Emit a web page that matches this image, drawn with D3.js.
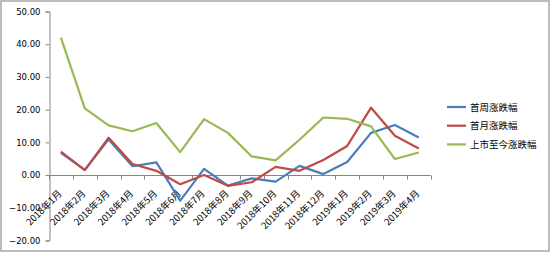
<!DOCTYPE html>
<html><head><meta charset="utf-8">
<script src="https://cdn.jsdelivr.net/npm/d3@7"></script>
<style>html,body{margin:0;padding:0;background:#fff;}svg{display:block;}</style>
</head><body>
<svg id="c" width="554" height="255"></svg>
<script>
const categories = ["2018年1月","2018年2月","2018年3月","2018年4月","2018年5月","2018年6月","2018年7月","2018年8月","2018年9月","2018年10月","2018年11月","2018年12月","2019年1月","2019年2月","2019年3月","2019年4月"];
const firstWeek  = [6.8, 1.6, 10.9, 2.7, 3.9, -7.8, 1.9, -3.2, -1.0, -2.0, 2.8, 0.3, 4.0, 12.9, 15.3, 11.5];
const firstMonth = [7.2, 1.5, 11.4, 3.4, 1.3, -2.8, 0.0, -3.3, -2.2, 2.5, 1.3, 4.6, 8.9, 20.6, 12.0, 8.1];
const sinceIPO   = [42.0, 20.4, 15.2, 13.4, 15.9, 7.0, 17.1, 12.9, 5.7, 4.5, 10.8, 17.6, 17.2, 14.9, 4.9, 6.9];
const seriesNames = ["首周涨跌幅","首月涨跌幅","上市至今涨跌幅"];
const seriesColors = ["#4a7ebb","#be4b48","#98b954"];
const yTicks = [-20,-10,0,10,20,30,40,50];

const svg = d3.select("#c");
svg.append("rect").attr("x",1).attr("y",1).attr("width",548).attr("height",250)
  .attr("fill","#fff").attr("stroke","#bdbdbd").attr("stroke-width",2);

const L = 49, R = 430.7, T = 11.5, B = 240.5;
const x = d3.scaleBand().domain(categories).range([L,R]).padding(0);
const y = d3.scaleLinear().domain([-20,50]).range([B,T]);
const cx = d => x(d) + x.bandwidth()/2;

// y axis
const yAxis = d3.axisLeft(y).tickValues(yTicks).tickSize(4).tickPadding(5).tickFormat(d3.format(".2f"));
const gy = svg.append("g").attr("transform",`translate(${L+0.5},0)`).call(yAxis)
  .attr("font-family",null).attr("font-size",null);
gy.select(".domain").attr("stroke","#868686");
gy.selectAll(".tick line").attr("stroke","#868686");
gy.selectAll("text").style("font-family","'DejaVu Sans', sans-serif").style("font-size","8.5px").attr("fill","#000");

// x axis at zero
const y0 = Math.round(y(0))+0.5;
const gx = svg.append("g").attr("transform",`translate(0,${y0})`);
gx.append("line").attr("x1",L).attr("x2",R).attr("stroke","#868686");
const bounds = categories.map(c => x(c)).concat([R]);
gx.selectAll("line.tk").data(bounds).join("line").attr("class","tk")
  .attr("x1",d=>Math.round(d)+0.5).attr("x2",d=>Math.round(d)+0.5).attr("y1",0).attr("y2",4).attr("stroke","#868686");
gx.selectAll("text").data(categories).join("text")
  .attr("transform",d=>`translate(${cx(d)+1.5},${18.5}) rotate(-45)`)
  .attr("text-anchor","end")
  .style("font-family","'Noto Sans CJK SC', sans-serif").style("font-size","9.5px").attr("fill","#000")
  .text(d=>d);

// lines
const allSeries = [firstWeek, firstMonth, sinceIPO];
const line = d3.line().x((d,i)=>cx(categories[i])).y(d=>y(d));
allSeries.forEach((s,k)=>{
  svg.append("path").datum(s).attr("d",line).attr("fill","none")
    .attr("stroke",seriesColors[k]).attr("stroke-width",2.2).attr("stroke-linejoin","round");
});

// legend
const lg = svg.append("g");
seriesNames.forEach((n,k)=>{
  const yy = 107 + k*18.7;
  lg.append("line").attr("x1",447).attr("x2",466).attr("y1",yy).attr("y2",yy)
    .attr("stroke",seriesColors[k]).attr("stroke-width",2.2);
  lg.append("text").attr("x",470).attr("y",yy+3.5)
    .style("font-family","'Noto Sans CJK SC', sans-serif").style("font-size","9.5px").attr("fill","#000").text(n);
});
</script>
</body></html>
